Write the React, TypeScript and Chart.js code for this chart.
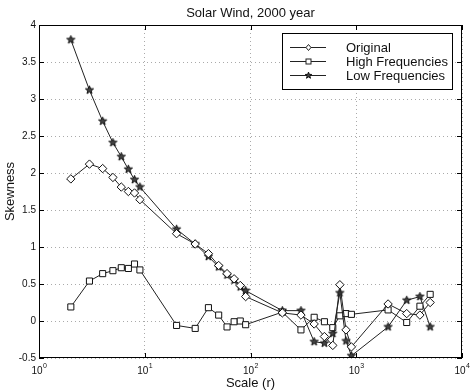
import React, { useEffect, useRef } from "react";
import { Chart, registerables } from "chart.js";

Chart.register(...registerables);

const scales_r = [2, 3, 4, 5, 6, 7, 8, 9, 20, 30, 40, 50, 60, 70, 80, 90, 200, 300, 400, 500, 600, 700, 800, 900, 2000, 3000, 4000, 5000];
const original = [1.92, 2.12, 2.06, 1.94, 1.81, 1.75, 1.73, 1.64, 1.18, 1.04, 0.91, 0.75, 0.64, 0.57, 0.48, 0.33, 0.11, 0.08, -0.04, -0.21, -0.33, 0.49, -0.12, -0.35, 0.23, 0.10, 0.08, 0.25];
const highFreq = [0.19, 0.54, 0.64, 0.68, 0.72, 0.71, 0.77, 0.69, -0.06, -0.10, 0.18, 0.08, -0.08, -0.01, 0.0, -0.05, 0.12, -0.12, 0.05, -0.01, -0.09, 0.07, 0.10, 0.09, 0.15, -0.02, 0.20, 0.36];
const lowFreq = [3.80, 3.12, 2.70, 2.41, 2.22, 2.05, 1.91, 1.81, 1.24, 1.04, 0.87, 0.73, 0.62, 0.55, 0.46, 0.41, 0.14, 0.14, -0.28, -0.30, -0.17, 0.38, -0.27, -0.47, -0.08, 0.28, 0.33, -0.08];
const seriesNames = ["Original", "High Frequencies", "Low Frequencies"];
const xTickExps = [0, 1, 2, 3, 4];
const yTicks = [-0.5, 0, 0.5, 1, 1.5, 2, 2.5, 3, 3.5, 4];
const titleText = "Solar Wind, 2000 year";
const xTitle = "Scale (r)";
const yTitle = "Skewness";

const FONT = "'Liberation Sans', Arial, Helvetica, sans-serif";

function makeStar(size: number, outer: number, inner: number) {
  const c = document.createElement("canvas");
  c.width = size;
  c.height = size;
  const g = c.getContext("2d")!;
  const cx = size / 2, cy = size / 2;
  g.beginPath();
  for (let i = 0; i < 10; i++) {
    const r = i % 2 === 0 ? outer : inner;
    const a = -Math.PI / 2 + (i * Math.PI) / 5;
    const px = cx + r * Math.cos(a), py = cy + r * Math.sin(a);
    if (i === 0) g.moveTo(px, py); else g.lineTo(px, py);
  }
  g.closePath();
  g.fillStyle = "#444";
  g.fill();
  g.strokeStyle = "#111";
  g.lineWidth = 1;
  g.stroke();
  return c;
}

function fmtY(v: number) {
  return String(v);
}

export default function App() {
  const ref = useRef<HTMLCanvasElement | null>(null);
  useEffect(() => {
    if (!ref.current) return;
    const star = makeStar(11, 4.3, 1.8);
    const starSmall = makeStar(9, 3.4, 1.4);
    const toPts = (arr: number[]) => arr.map((y, i) => ({ x: scales_r[i], y }));

    const decor = {
      id: "decor",
      afterDraw(chart: any) {
        const ctx = chart.ctx;
        const a = chart.chartArea;
        const xs = chart.scales.x;
        const ys = chart.scales.y;
        ctx.save();
        ctx.strokeStyle = "#000";
        ctx.lineWidth = 1;
        ctx.strokeRect(Math.round(a.left) + 0.5, Math.round(a.top) + 0.5, Math.round(a.right - a.left) - 1, Math.round(a.bottom - a.top) - 1);
        ctx.beginPath();
        yTicks.forEach((v) => {
          const py = Math.round(ys.getPixelForValue(v)) + 0.5;
          ctx.moveTo(a.left, py); ctx.lineTo(a.left + 5, py);
          ctx.moveTo(a.right, py); ctx.lineTo(a.right - 5, py);
        });
        xTickExps.forEach((e) => {
          const px = Math.round(xs.getPixelForValue(Math.pow(10, e))) + 0.5;
          ctx.moveTo(px, a.bottom); ctx.lineTo(px, a.bottom - 5);
          ctx.moveTo(px, a.top); ctx.lineTo(px, a.top + 5);
        });
        ctx.stroke();
        ctx.fillStyle = "#111";
        ctx.font = `10px ${FONT}`;
        ctx.textAlign = "right";
        ctx.textBaseline = "middle";
        yTicks.forEach((v) => {
          const py = ys.getPixelForValue(v);
          ctx.fillText(fmtY(v), a.left - 3, py);
        });
        xTickExps.forEach((e) => {
          const px = xs.getPixelForValue(Math.pow(10, e));
          ctx.font = `10px ${FONT}`;
          const w1 = ctx.measureText("10").width;
          ctx.font = `7px ${FONT}`;
          const w2 = ctx.measureText(String(e)).width;
          const x0 = px - (w1 + w2) / 2;
          ctx.textAlign = "left";
          ctx.textBaseline = "alphabetic";
          ctx.font = `10px ${FONT}`;
          ctx.fillText("10", x0, a.bottom + 16);
          ctx.font = `7px ${FONT}`;
          ctx.fillText(String(e), x0 + w1 + 0.5, a.bottom + 10);
        });
        const cxp = (a.left + a.right) / 2;
        ctx.textAlign = "center";
        ctx.textBaseline = "alphabetic";
        ctx.font = `13px ${FONT}`;
        ctx.fillText(titleText, cxp, 17);
        ctx.fillText(xTitle, cxp, 387);
        ctx.save();
        ctx.translate(14, (a.top + a.bottom) / 2);
        ctx.rotate(-Math.PI / 2);
        ctx.fillText(yTitle, 0, 0);
        ctx.restore();
        const lx = 282, ly = 33, lw = 170, lh = 56;
        ctx.fillStyle = "#fff";
        ctx.fillRect(lx, ly, lw, lh);
        ctx.strokeStyle = "#000";
        ctx.strokeRect(lx + 0.5, ly + 0.5, lw, lh);
        const rowsY = [47, 61, 75];
        chart.data.datasets.forEach((ds: any, i: number) => {
          const y = rowsY[i] + 0.5;
          ctx.strokeStyle = "#222";
          ctx.lineWidth = 1;
          ctx.beginPath();
          ctx.moveTo(290, y); ctx.lineTo(326, y);
          ctx.stroke();
          const mx = 308.5;
          if (i === 0) {
            ctx.fillStyle = "#fff";
            ctx.beginPath();
            ctx.moveTo(mx, y - 3); ctx.lineTo(mx + 2.5, y); ctx.lineTo(mx, y + 3); ctx.lineTo(mx - 2.5, y); ctx.closePath();
            ctx.fill(); ctx.stroke();
          } else if (i === 1) {
            ctx.fillStyle = "#fff";
            ctx.fillRect(mx - 2.5, y - 2.5, 5, 5);
            ctx.strokeRect(mx - 2.5, y - 2.5, 5, 5);
          } else {
            ctx.drawImage(starSmall, mx - 4.5, y - 4.5);
          }
          ctx.fillStyle = "#111";
          ctx.font = `13px ${FONT}`;
          ctx.textAlign = "left";
          ctx.textBaseline = "middle";
          ctx.fillText(ds.label, 346, rowsY[i] + 1);
        });
        ctx.restore();
      },
    };

    const common = {
      showLine: true,
      borderColor: "#222",
      borderWidth: 1,
      backgroundColor: "#fff",
      pointBorderColor: "#111",
      pointBorderWidth: 1,
      pointBackgroundColor: "#fff",
      tension: 0,
    };

    const chart = new Chart(ref.current, {
      type: "scatter",
      data: {
        datasets: [
          { ...common, label: seriesNames[0], data: toPts(original), pointStyle: "rectRot", pointRadius: 4.2 },
          { ...common, label: seriesNames[1], data: toPts(highFreq), pointStyle: "rect", pointRadius: 4.3 },
          { ...common, label: seriesNames[2], data: toPts(lowFreq), pointStyle: star as any, pointRadius: 4.5 },
        ],
      },
      options: {
        animation: false,
        responsive: true,
        maintainAspectRatio: false,
        layout: { padding: { left: 0, top: 25, right: 12, bottom: 0 } },
        plugins: { legend: { display: false }, title: { display: false }, tooltip: { enabled: false } },
        scales: {
          x: {
            type: "logarithmic",
            min: 1,
            max: 10000,
            afterBuildTicks: (s: any) => { s.ticks = xTickExps.map((e) => ({ value: Math.pow(10, e) })); },
            afterFit: (s: any) => { s.height = 33; },
            ticks: { display: false },
            border: { display: false, dash: [1, 3] },
            grid: { color: "#aaa", lineWidth: 1, drawTicks: false },
          },
          y: {
            type: "linear",
            min: -0.5,
            max: 4,
            afterBuildTicks: (s: any) => { s.ticks = yTicks.map((v) => ({ value: v })); },
            afterFit: (s: any) => { s.width = 39; },
            ticks: { display: false },
            border: { display: false, dash: [1, 3] },
            grid: { color: "#aaa", lineWidth: 1, drawTicks: false },
          },
        },
      } as any,
      plugins: [decor],
    });
    return () => chart.destroy();
  }, []);
  return (
    <div style={{ position: "fixed", left: 0, top: 0, width: 474, height: 391, background: "#fff" }}>
      <canvas ref={ref} />
    </div>
  );
}
